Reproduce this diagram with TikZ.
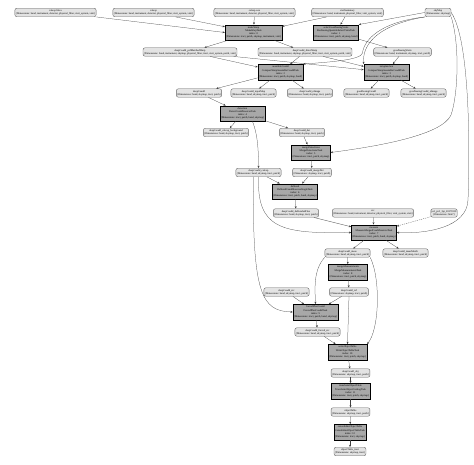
\documentclass[tikz,border=0pt]{standalone}
\usepackage{fontspec}
\setmainfont{Liberation Serif}
\usepackage{xcolor}
\definecolor{taskgray}{gray}{0.66}
\definecolor{dsgray}{gray}{0.89}
\usetikzlibrary{arrows.meta}
\newcommand{\graphfont}{\fontsize{2.6}{3.1}\selectfont}
\tikzset{
	dset/.style={draw=black!60, fill=dsgray, rounded corners=2pt, align=center, inner sep=0.7pt, minimum height=8.5pt, font=\graphfont},
	tasknode/.style={draw=black, fill=taskgray, align=center, inner sep=0.7pt, minimum height=15.5pt, font=\graphfont},
	flow/.style={-{Stealth[length=2.3pt,width=1.9pt]}, line width=0.25pt, draw=black!75},
	preflow/.style={flow, dashed, dash pattern=on 1.2pt off 1pt}
}

\begin{document}
\begin{tikzpicture}[x=1pt,y=-1pt]
	\useasboundingbox (0,0) rectangle (474,465);
	
	% draw input datasets
	\node[dset] (bbox) at (55.5,12.5) {calexp.bbox\\\{Dimensions: band, instrument, detector, physical\_filter, visit\_system, visit\}};
	\node[dset] (calexp) at (153.5,12.5) {calexp\\\{Dimensions: band, instrument, detector, physical\_filter, visit\_system, visit\}};
	\node[dset] (wcs) at (254.5,12.5) {calexp.wcs\\\{Dimensions: band, instrument, detector, physical\_filter, visit\_system, visit\}};
	\node[dset] (visitSummary) at (347.5,12.5) {visitSummary\\\{Dimensions: band, instrument, physical\_filter, visit\_system, visit\}};
	\node[dset] (skyMap) at (438,12.5) {skyMap\\\{Dimensions: skymap\}};
	
	% draw warp tasks
	\node[tasknode] (makeWarp) at (253.5,32.5) {makeWarp\\MakeWarpTask\\index: 0\\\{Dimensions: tract, patch, skymap, instrument, visit\}};
	\node[tasknode] (selectGood) at (336,32.5) {selectGoodSeeingVisits\\BestSeeingQuantileSelectVisitsTask\\index: 1\\\{Dimensions: tract, patch, skymap, band\}};
	
	\node[dset] (psfWarp) at (190,52) {deepCoadd\_psfMatchedWarp\\\{Dimensions: band, instrument, skymap, physical\_filter, tract, visit\_system, patch, visit\}};
	\node[dset] (directWarp) at (305,52) {deepCoadd\_directWarp\\\{Dimensions: band, instrument, skymap, physical\_filter, tract, visit\_system, patch, visit\}};
	\node[dset] (goodVisits) at (402.5,52) {goodSeeingVisits\\\{Dimensions: band, instrument, skymap, tract, patch\}};
	
	% draw coadd tasks
	\node[tasknode] (assemble) at (280.5,72) {assembleCoadd\\CompareWarpAssembleCoaddTask\\index: 2\\\{Dimensions: tract, patch, skymap, band\}};
	\node[tasknode] (templateGen) at (386.5,72) {templateGen\\CompareWarpAssembleCoaddTask\\index: 3\\\{Dimensions: tract, patch, skymap, band\}};
	
	\node[dset] (coadd) at (199,93) {deepCoadd\\\{Dimensions: band, skymap, tract, patch\}};
	\node[dset] (inputMap) at (253.5,93) {deepCoadd\_inputMap\\\{Dimensions: band, skymap, tract, patch\}};
	\node[dset] (nImage) at (310,93) {deepCoadd\_nImage\\\{Dimensions: band, skymap, tract, patch\}};
	\node[dset] (goodCoadd) at (366.5,93) {goodSeeingCoadd\\\{Dimensions: band, skymap, tract, patch\}};
	\node[dset] (goodNImage) at (423.5,93) {goodSeeingCoadd\_nImage\\\{Dimensions: band, skymap, tract, patch\}};
	
	% draw detection and merge
	\node[tasknode] (detection) at (242.5,113.5) {detection\\DetectCoaddSourcesTask\\index: 4\\\{Dimensions: tract, patch, band, skymap\}};
	\node[dset] (calexpBg) at (226,132.5) {deepCoadd\_calexp\_background\\\{Dimensions: band, skymap, tract, patch\}};
	\node[dset] (det) at (302,132.5) {deepCoadd\_det\\\{Dimensions: band, skymap, tract, patch\}};
	\node[tasknode] (mergeDetections) at (311,152.5) {mergeDetections\\MergeDetectionsTask\\index: 5\\\{Dimensions: tract, patch, skymap\}};
	\node[dset] (coaddCalexp) at (258.5,172.5) {deepCoadd\_calexp\\\{Dimensions: band, skymap, tract, patch\}};
	\node[dset] (mergeDet) at (312,172.5) {deepCoadd\_mergeDet\\\{Dimensions: skymap, tract, patch\}};
	
	% draw deblend and measure
	\node[tasknode] (deblend) at (295,191.5) {deblend\\DeblendCoaddSourcesSingleTask\\index: 6\\\{Dimensions: tract, patch, band, skymap\}};
	\node[dset] (deblendedFlux) at (296,213) {deepCoadd\_deblendedFlux\\\{Dimensions: band, skymap, tract, patch\}};
	\node[dset] (src) at (373,213) {src\\\{Dimensions: band, instrument, detector, physical\_filter, visit\_system, visit\}};
	\node[dset] (refCat) at (444,213) {ps1\_pv3\_3pi\_20170110\\\{Dimensions: htm7\}};
	\node[tasknode] (measure) at (374,232.5) {measure\\MeasureMergedCoaddSourcesTask\\index: 7\\\{Dimensions: tract, patch, band, skymap\}};
	\node[dset] (meas) at (347.5,253) {deepCoadd\_meas\\\{Dimensions: band, skymap, tract, patch\}};
	\node[dset] (measMatch) at (405.5,253) {deepCoadd\_measMatch\\\{Dimensions: band, skymap, tract, patch\}};
	\node[tasknode] (mergeMeas) at (348,272) {mergeMeasurements\\MergeMeasurementsTask\\index: 8\\\{Dimensions: tract, patch, skymap\}};
	
	% draw forced photometry
	\node[dset] (coaddSrc) at (286.5,292) {deepCoadd\_src\\\{Dimensions: band, skymap, tract, patch\}};
	\node[dset] (ref) at (349,292) {deepCoadd\_ref\\\{Dimensions: skymap, tract, patch\}};
	\node[tasknode] (forcedPhot) at (315.5,312) {forcedPhotCoadd\\ForcedPhotCoaddTask\\index: 9\\\{Dimensions: tract, patch, band, skymap\}};
	\node[dset] (forcedSrc) at (317.5,332) {deepCoadd\_forced\_src\\\{Dimensions: band, skymap, tract, patch\}};
	
	% draw object tables
	\node[tasknode] (writeObj) at (347.5,352) {writeObjectTable\\WriteObjectTableTask\\index: 10\\\{Dimensions: tract, patch, skymap\}};
	\node[dset] (obj) at (350.5,373) {deepCoadd\_obj\\\{Dimensions: skymap, tract, patch\}};
	\node[tasknode] (transformObj) at (350.5,391) {transformObjectTable\\TransformObjectCatalogTask\\index: 11\\\{Dimensions: tract, patch, skymap\}};
	\node[dset] (objTable) at (350.5,412) {objectTable\\\{Dimensions: skymap, tract, patch\}};
	\node[tasknode] (consolidate) at (350,432) {consolidateObjectTable\\ConsolidateObjectTableTask\\index: 12\\\{Dimensions: tract, skymap\}};
	\node[dset] (objTract) at (350,451.5) {objectTable\_tract\\\{Dimensions: skymap, tract\}};
	
	%%% edges, top part
	\draw[flow] (bbox.south east) -- (makeWarp.west);
	\draw[flow] (calexp) -- (makeWarp);
	\draw[flow] (wcs) -- (makeWarp);
	\draw[flow] (visitSummary) -- (makeWarp);
	\draw[flow] (visitSummary) -- (selectGood);
	\draw[flow] (skyMap.west) -- (selectGood.north east);
	\draw[flow] (makeWarp) -- (psfWarp);
	\draw[flow] (makeWarp) -- (directWarp);
	\draw[flow] (selectGood) -- (goodVisits);
	\draw[flow] (psfWarp) -- (assemble);
	\draw[flow] (directWarp) -- (assemble);
	\draw[flow] (psfWarp) -- (templateGen);
	\draw[flow] (directWarp) -- (templateGen);
	\draw[flow] (goodVisits) -- (templateGen);
	\draw[flow] (skyMap.south west) .. controls (380,22) and (364,40) .. (362.5,53) .. controls (361,60) and (330,62) .. (assemble.north east);
	\draw[flow] (skyMap.south west) .. controls (382,24) and (362,42) .. (templateGen.north west);
	\draw[flow] (assemble) -- (coadd);
	\draw[flow] (assemble) -- (inputMap);
	\draw[flow] (assemble) -- (nImage);
	\draw[flow] (templateGen) -- (goodCoadd);
	\draw[flow] (templateGen) -- (goodNImage);
	
	%%% edges, detection
	\draw[flow] (coadd) -- (detection);
	\draw[flow] (detection) -- (calexpBg);
	\draw[flow] (detection) -- (det);
	\draw[flow] ([xshift=10pt]detection.south) .. controls (258,135) and (258.5,152) .. (coaddCalexp.north);
	\draw[flow] (det) -- (mergeDetections);
	\draw[flow] (skyMap.south east) .. controls (460,45) and (458,95) .. (451,115) .. controls (442,135) and (380,146) .. (mergeDetections.east);
	\draw[flow] (mergeDetections) -- (mergeDet);
	\draw[flow] (coaddCalexp) -- (deblend);
	\draw[flow] (mergeDet) -- (deblend);
	\draw[flow] (deblend) -- (deblendedFlux);
	
	%%% edges, measure
	\draw[flow] (coaddCalexp.south) .. controls (257,228) and (280,234) .. (measure.west);
	\draw[flow] (deblendedFlux) -- (measure);
	\draw[flow] (src) -- (measure);
	\draw[preflow] (refCat) -- (measure);
	\draw[flow] (skyMap.east) .. controls (470,40) and (470,150) .. (468,200) .. controls (467,228) and (425,234) .. (measure.east);
	\draw[flow] (measure) -- (meas);
	\draw[flow] (measure) -- (measMatch);
	\draw[flow] (meas) -- (mergeMeas);
	\draw[flow] (mergeMeas) -- (ref);
	
	%%% edges, forced photometry and tables
	\draw[flow] ([xshift=-5pt]coaddCalexp.south) .. controls (252,295) and (262,311) .. (forcedPhot.west);
	\draw[flow] (meas.south west) .. controls (313,270) and (315,290) .. (forcedPhot.north);
	\draw[flow] (coaddSrc) -- (forcedPhot);
	\draw[flow] (ref) -- (forcedPhot);
	\draw[flow] (forcedPhot) -- (forcedSrc);
	\draw[flow] (meas.south east) .. controls (381,280) and (379,330) .. (writeObj.north east);
	\draw[flow] (ref.south) -- (writeObj.north);
	\draw[flow] (forcedSrc) -- (writeObj);
	\draw[flow] (writeObj) -- (obj);
	\draw[flow] (obj) -- (transformObj);
	\draw[flow] (transformObj) -- (objTable);
	\draw[flow] (objTable) -- (consolidate);
	\draw[flow] (consolidate) -- (objTract);
	
\end{tikzpicture}
\end{document}
